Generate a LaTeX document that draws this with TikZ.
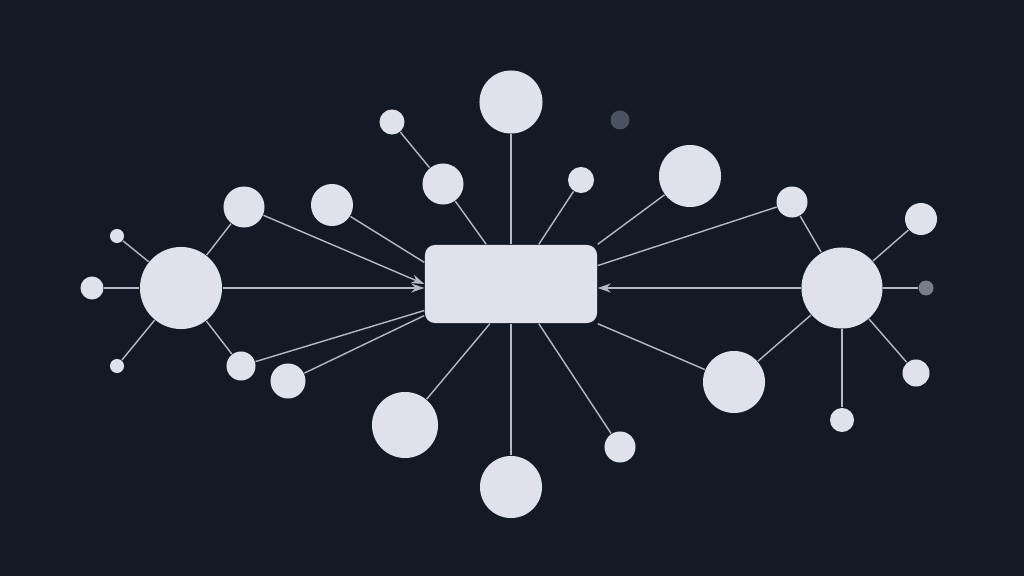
\documentclass[tikz,border=0pt]{standalone}
\usetikzlibrary{arrows.meta}
\definecolor{bgnavy}{HTML}{131A26}
\definecolor{bubblefill}{HTML}{DFE2EA}
\definecolor{linkgrey}{HTML}{B4B9C4}
\definecolor{fadedot}{HTML}{4A5162}
\definecolor{greydot}{HTML}{767C8A}
\tikzset{
  bubble/.style={circle, fill=bubblefill, inner sep=0pt},
  hubbox/.style={rectangle, fill=bubblefill, rounded corners=0.1cm, inner sep=0pt,
    minimum width=1.72cm, minimum height=0.78cm},
  link/.style={draw=linkgrey, line width=0.4pt},
  arrowlink/.style={link, -{Stealth[length=1.3mm, width=0.9mm]}}
}
\begin{document}
\begin{tikzpicture}[x=0.01cm, y=-0.01cm]
            % background
            \fill[bgnavy] (0,0) rectangle (1024,576);
            \useasboundingbox (0,0) rectangle (1024,576);
            % hub
            \node[hubbox] (hub) at (511,284) {};
            % top and bottom
            \node[bubble, minimum size=0.63cm] (top) at (511,102) {};
            \node[bubble, minimum size=0.62cm] (bottom) at (511,487) {};
            % upper ring
            \node[bubble, minimum size=0.25cm] (tinyul) at (392,122) {};
            \node[bubble, minimum size=0.41cm] (midul) at (443,184) {};
            \node[bubble, minimum size=0.26cm] (smallur) at (581,180) {};
            \node[bubble, fill=fadedot, minimum size=0.19cm] (faint) at (620,120) {};
            \node[bubble, minimum size=0.62cm] (bigur) at (690,176) {};
            \node[bubble, minimum size=0.42cm] (midl) at (332,205) {};
            % lower ring
            \node[bubble, minimum size=0.66cm] (bigll) at (405,425) {};
            \node[bubble, minimum size=0.31cm] (smalllr) at (620,447) {};
            \node[bubble, minimum size=0.62cm] (biglr) at (734,382) {};
            % left cluster
            \node[bubble, minimum width=0.82cm, minimum height=0.77cm] (left) at (181,288) {};
            \node[bubble, minimum size=0.41cm] (leftup) at (244,207) {};
            \node[bubble, minimum size=0.14cm] (lefta) at (117,236) {};
            \node[bubble, minimum size=0.23cm] (leftb) at (92,288) {};
            \node[bubble, minimum size=0.14cm] (leftc) at (117,366) {};
            \node[bubble, minimum size=0.29cm] (leftlo) at (241,366) {};
            \node[bubble, minimum size=0.35cm] (leftlo2) at (288,381) {};
            % right cluster
            \node[bubble, minimum size=0.81cm] (right) at (842,288) {};
            \node[bubble, minimum size=0.31cm] (rightup) at (792,202) {};
            \node[bubble, minimum size=0.32cm] (righta) at (921,219) {};
            \node[bubble, fill=greydot, minimum size=0.15cm] (rightb) at (926,288) {};
            \node[bubble, minimum size=0.27cm] (rightc) at (916,373) {};
            \node[bubble, minimum size=0.24cm] (rightd) at (842,420) {};
            % hub links
            \draw[link] (top) -- (hub.north);
            \draw[link] (bottom) -- (hub.south);
            \draw[link] (midul) -- (hub.122);
            \draw[link] (tinyul) -- (midul);
            \draw[link] (smallur) -- (hub.55);
            \draw[link] (bigur) -- (hub.north east);
            \draw[link] (rightup) -- (hub.12);
            \draw[link] (midl) -- (hub.166);
            \draw[arrowlink] (leftup) -- (hub.west);
            \draw[arrowlink] (left.east) -- (left.east -| hub.west);
            \draw[arrowlink] (right.west) -- (right.west -| hub.east);
            \draw[link] (leftlo) -- (hub.197);
            \draw[link] (leftlo2) -- (hub.200);
            \draw[link] (bigll) -- (hub.242);
            \draw[link] (smalllr) -- (hub.305);
            \draw[link] (biglr) -- (hub.south east);
            % left spokes
            \draw[link] (left) -- (lefta);
            \draw[link] (left) -- (leftb);
            \draw[link] (left) -- (leftc);
            \draw[link] (left) -- (leftup);
            \draw[link] (left) -- (leftlo);
            % right spokes
            \draw[link] (right) -- (rightup);
            \draw[link] (right) -- (righta);
            \draw[link] (right) -- (rightb);
            \draw[link] (right) -- (rightc);
            \draw[link] (right) -- (rightd);
            \draw[link] (right) -- (biglr);
\end{tikzpicture}
\end{document}
